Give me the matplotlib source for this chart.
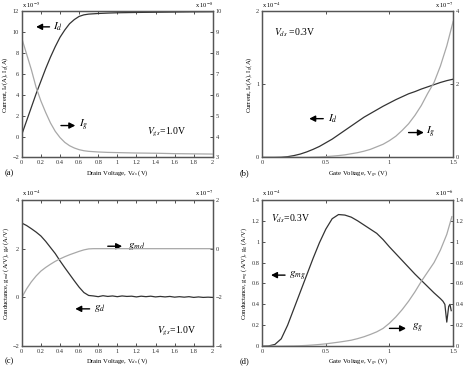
import matplotlib
matplotlib.use("Agg")
import matplotlib.pyplot as plt

plt.rcParams['font.family'] = ['Liberation Serif', 'DejaVu Serif']
plt.rcParams['mathtext.fontset'] = 'stix'

# ---------- data ----------
# (a) Vgs = 1.0 V, sweep Vds
vds_a = [0, 0.05, 0.1, 0.15, 0.2, 0.25, 0.3, 0.35, 0.4, 0.45, 0.5, 0.55, 0.6, 0.65, 0.7,
         0.8, 0.9, 1.0, 1.2, 1.4, 1.6, 1.8, 2.0]
id_a = [0.2, 1.5, 2.8, 4.1, 5.3, 6.5, 7.6, 8.6, 9.5, 10.2, 10.8, 11.2, 11.5, 11.65, 11.72,
        11.78, 11.82, 11.85, 11.88, 11.9, 11.92, 11.94, 11.95]            # x1e-5 A
ig_a = [8.7, 7.95, 7.2, 6.35, 5.7, 5.15, 4.65, 4.25, 3.95, 3.72, 3.56, 3.45, 3.37, 3.32, 3.29,
        3.26, 3.24, 3.23, 3.21, 3.2, 3.18, 3.17, 3.16]                    # x1e-8 A

# (b) Vds = 0.3 V, sweep Vgs
vgs_b = [0, 0.1, 0.15, 0.2, 0.25, 0.3, 0.35, 0.4, 0.45, 0.5, 0.55, 0.6, 0.65, 0.7, 0.75,
         0.8, 0.85, 0.9, 0.95, 1.0, 1.05, 1.1, 1.15, 1.2, 1.25, 1.3, 1.35, 1.4, 1.45, 1.5]
id_b = [0, 0, 0.002, 0.01, 0.025, 0.046, 0.075, 0.11, 0.15, 0.2, 0.25, 0.31, 0.37, 0.43, 0.49,
        0.55, 0.6, 0.65, 0.7, 0.745, 0.79, 0.83, 0.87, 0.9, 0.935, 0.965, 0.995, 1.025, 1.05, 1.07]  # x1e-4 A
ig_b = [0, 0, 0, 0, 0, 0, 0, 0.005, 0.01, 0.02, 0.035, 0.05, 0.07, 0.1, 0.13,
        0.17, 0.22, 0.29, 0.36, 0.46, 0.58, 0.74, 0.92, 1.15, 1.42, 1.75, 2.05, 2.5, 3.05, 3.72]   # x1e-7 A

# (c) Vgs = 1.0 V, conductances vs Vds
vds_c_gd = [0, 0.05, 0.1, 0.15, 0.2, 0.25, 0.3, 0.35, 0.4, 0.45, 0.5, 0.55, 0.6, 0.65, 0.7, 0.75,
            0.8, 0.85, 0.9, 0.95, 1.0, 1.05, 1.1, 1.15, 1.2, 1.25, 1.3, 1.35, 1.4, 1.45, 1.5,
            1.55, 1.6, 1.65, 1.7, 1.75, 1.8, 1.85, 1.9, 1.95, 2.0]
gd_c = [3.05, 2.95, 2.82, 2.68, 2.52, 2.3, 2.05, 1.8, 1.5, 1.22, 0.95, 0.68, 0.42, 0.2, 0.08, 0.06,
        0.03, 0.07, 0.04, 0.06, 0.03, 0.06, 0.04, 0.05, 0.02, 0.05, 0.03, 0.05, 0.02, 0.04, 0.02,
        0.04, 0.01, 0.03, 0.01, 0.03, 0.0, 0.02, 0.0, 0.01, 0.0]          # x1e-4 A/V
vds_c_gmd = [0, 0.05, 0.1, 0.15, 0.2, 0.25, 0.3, 0.35, 0.4, 0.45, 0.5, 0.55, 0.6, 0.65, 0.7, 0.75,
             1.0, 1.5, 2.0]
gmd_c = [-2.0, -1.65, -1.36, -1.12, -0.92, -0.77, -0.64, -0.52, -0.42, -0.33, -0.25, -0.18, -0.11,
         -0.05, -0.01, 0, 0, 0, 0]                                       # x1e-7 A/V

# (d) Vds = 0.3 V, conductances vs Vgs
vgs_d_gmg = [0, 0.05, 0.1, 0.15, 0.2, 0.25, 0.3, 0.35, 0.4, 0.45, 0.5, 0.55, 0.6, 0.65, 0.7, 0.75,
             0.8, 0.85, 0.9, 0.95, 1.0, 1.05, 1.1, 1.15, 1.2, 1.25, 1.3, 1.35, 1.4, 1.42, 1.435,
             1.45, 1.465, 1.475, 1.485]
gmg_d = [0, 0.002, 0.016, 0.07, 0.2, 0.36, 0.52, 0.68, 0.84, 0.99, 1.12, 1.22, 1.26, 1.255, 1.235,
         1.2, 1.16, 1.12, 1.08, 1.02, 0.95, 0.885, 0.82, 0.755, 0.69, 0.63, 0.57, 0.51, 0.455, 0.43,
         0.40, 0.23, 0.38, 0.40, 0.34]                                   # x1e-4 A/V
vgs_d_gg = [0, 0.05, 0.1, 0.15, 0.2, 0.25, 0.3, 0.35, 0.4, 0.45, 0.5, 0.55, 0.6, 0.65, 0.7, 0.75,
            0.8, 0.85, 0.9, 0.95, 1.0, 1.05, 1.1, 1.15, 1.2, 1.25, 1.3, 1.35, 1.4, 1.45, 1.49]
gg_d = [0, 0, 0, 0, 0.001, 0.002, 0.004, 0.007, 0.011, 0.016, 0.022, 0.03, 0.038, 0.047, 0.057,
        0.072, 0.09, 0.112, 0.137, 0.17, 0.22, 0.28, 0.35, 0.43, 0.52, 0.62, 0.71, 0.80, 0.92,
        1.07, 1.24]                                                      # x1e-6 A/V

# ---------- styling ----------
DARK = '#333333'
LIGHT = '#a8a8a8'
SPINE = '#555555'
TFS = 4.6
LFS = 4.8
AFS = 8

fig = plt.figure(figsize=(4.74, 3.73), dpi=100)


def make_axes(rect):
    ax = fig.add_axes(rect)
    ax2 = ax.twinx()
    for a in (ax, ax2):
        for s in a.spines.values():
            s.set_color(SPINE)
            s.set_linewidth(0.9)
    ax.tick_params(axis='both', direction='in', length=2.5, width=0.6, labelsize=TFS,
                   pad=2, colors='#333333', top=True)
    ax2.tick_params(axis='y', direction='in', length=2.5, width=0.6, labelsize=TFS,
                    pad=2, colors='#333333')
    return ax, ax2


def arrow(ax, x0, x1, y):
    ax.annotate('', xy=(x1, y), xytext=(x0, y),
                arrowprops=dict(arrowstyle='-|>,head_width=0.18,head_length=0.35',
                                color='black', lw=1.0, shrinkA=0, shrinkB=0))


W = 0.403
H = 0.392
L1, L2 = 0.046, 0.553
B1, B2 = 0.578, 0.072

# ----- (a) -----
ax, ax2 = make_axes([L1, B1, W, H])
ax.plot(vds_a, id_a, color=DARK, lw=0.9)
ax2.plot(vds_a, ig_a, color=LIGHT, lw=0.9)
ax.set_xlim(0, 2)
ax.set_ylim(-2, 12)
ax2.set_ylim(3, 10)
ax.set_xticks([0, 0.2, 0.4, 0.6, 0.8, 1, 1.2, 1.4, 1.6, 1.8, 2])
ax.set_xticklabels(['0', '0.2', '0.4', '0.6', '0.8', '1', '1.2', '1.4', '1.6', '1.8', '2'])
ax.set_yticks([-2, 0, 2, 4, 6, 8, 10, 12])
ax2.set_yticks([3, 4, 5, 6, 7, 8, 9, 10])
ax.set_ylabel('Current, I$_d$(A), I$_g$(A)', fontsize=LFS, labelpad=1)
ax.set_xlabel('Drain Voltage, V$_{ds}$ (V)', fontsize=LFS, labelpad=2)
ax.text(0, 1.01, 'x 10$^{-5}$', transform=ax.transAxes, fontsize=TFS, ha='left', va='bottom')
ax.text(1, 1.01, 'x 10$^{-8}$', transform=ax.transAxes, fontsize=TFS, ha='right', va='bottom')
arrow(ax, 0.29, 0.15, 10.5)
ax.text(0.33, 10.5, '$I_d$', fontsize=AFS, va='center')
arrow(ax, 0.41, 0.56, 1.05)
ax.text(0.6, 1.05, '$I_g$', fontsize=AFS, va='center')
ax.text(1.31, 0.4, '$V_{gs}$=1.0V', fontsize=7, va='center')
ax.text(-0.09, -0.105, '(a)', transform=ax.transAxes, fontsize=6, va='center')

# ----- (b) -----
ax, ax2 = make_axes([L2, B1, W, H])
ax.plot(vgs_b, id_b, color=DARK, lw=0.9)
ax2.plot(vgs_b, ig_b, color=LIGHT, lw=0.9)
ax.set_xlim(0, 1.5)
ax.set_ylim(0, 2)
ax2.set_ylim(0, 4)
ax.set_xticks([0, 0.5, 1, 1.5])
ax.set_xticklabels(['0', '0.5', '1', '1.5'])
ax.set_yticks([0, 1, 2])
ax2.set_yticks([0, 2, 4])
ax.set_ylabel('Current, I$_d$(A), I$_g$(A)', fontsize=LFS, labelpad=1)
ax.set_xlabel('Gate Voltage, V$_{gs}$ (V)', fontsize=LFS, labelpad=2)
ax.text(0, 1.01, 'x 10$^{-4}$', transform=ax.transAxes, fontsize=TFS, ha='left', va='bottom')
ax.text(1, 1.01, 'x 10$^{-7}$', transform=ax.transAxes, fontsize=TFS, ha='right', va='bottom')
arrow(ax, 0.48, 0.37, 0.53)
ax.text(0.52, 0.53, '$I_d$', fontsize=AFS, va='center')
arrow(ax, 1.15, 1.27, 0.34)
ax.text(1.29, 0.34, '$I_g$', fontsize=AFS, va='center')
ax.text(0.09, 1.7, '$V_{ds}$ =0.3V', fontsize=7, va='center')
ax.text(-0.12, -0.105, '(b)', transform=ax.transAxes, fontsize=6, va='center')

# ----- (c) -----
ax, ax2 = make_axes([L1, B2, W, H])
ax.plot(vds_c_gd, gd_c, color=DARK, lw=0.9)
ax2.plot(vds_c_gmd, gmd_c, color=LIGHT, lw=0.9)
ax.set_xlim(0, 2)
ax.set_ylim(-2, 4)
ax2.set_ylim(-4, 2)
ax.set_xticks([0, 0.2, 0.4, 0.6, 0.8, 1, 1.2, 1.4, 1.6, 1.8, 2])
ax.set_xticklabels(['0', '0.2', '0.4', '0.6', '0.8', '1', '1.2', '1.4', '1.6', '1.8', '2'])
ax.set_yticks([-2, 0, 2, 4])
ax2.set_yticks([-4, -2, 0, 2])
ax.set_ylabel('Conductance, g$_{md}$ (A/V), g$_d$ (A/V)', fontsize=LFS, labelpad=1)
ax.set_xlabel('Drain Voltage, V$_{ds}$ (V)', fontsize=LFS, labelpad=2)
ax.text(0, 1.01, 'x 10$^{-4}$', transform=ax.transAxes, fontsize=TFS, ha='left', va='bottom')
ax.text(1, 1.01, 'x 10$^{-7}$', transform=ax.transAxes, fontsize=TFS, ha='right', va='bottom')
arrow(ax, 0.9, 1.05, 2.1)
ax.text(1.11, 2.1, '$g_{md}$', fontsize=AFS, va='center')
arrow(ax, 0.71, 0.56, -0.47)
ax.text(0.76, -0.47, '$g_d$', fontsize=AFS, va='center')
ax.text(1.42, -1.4, '$V_{gs}$=1.0V', fontsize=7, va='center')
ax.text(-0.09, -0.105, '(c)', transform=ax.transAxes, fontsize=6, va='center')

# ----- (d) -----
ax, ax2 = make_axes([L2, B2, W, H])
ax.plot(vgs_d_gmg, gmg_d, color=DARK, lw=0.9)
ax2.plot(vgs_d_gg, gg_d, color=LIGHT, lw=0.9)
ax.set_xlim(0, 1.5)
ax.set_ylim(0, 1.4)
ax2.set_ylim(0, 1.4)
ax.set_xticks([0, 0.5, 1, 1.5])
ax.set_xticklabels(['0', '0.5', '1', '1.5'])
ticks_d = [0, 0.2, 0.4, 0.6, 0.8, 1, 1.2, 1.4]
labels_d = ['0', '0.2', '0.4', '0.6', '0.8', '1', '1.2', '1.4']
ax.set_yticks(ticks_d)
ax.set_yticklabels(labels_d)
ax2.set_yticks(ticks_d)
ax2.set_yticklabels(labels_d)
ax.set_ylabel('Conductance, g$_{mg}$ (A/V), g$_g$ (A/V)', fontsize=LFS, labelpad=1)
ax.set_xlabel('Gate Voltage, V$_{gs}$ (V)', fontsize=LFS, labelpad=2)
ax.text(0, 1.01, 'x 10$^{-4}$', transform=ax.transAxes, fontsize=TFS, ha='left', va='bottom')
ax.text(1, 1.01, 'x 10$^{-6}$', transform=ax.transAxes, fontsize=TFS, ha='right', va='bottom')
arrow(ax, 0.18, 0.07, 0.68)
ax.text(0.21, 0.67, '$g_{mg}$', fontsize=AFS, va='center')
arrow(ax, 1.0, 1.13, 0.17)
ax.text(1.18, 0.165, '$g_g$', fontsize=AFS, va='center')
ax.text(0.07, 1.22, '$V_{ds}$=0.3V', fontsize=7, va='center')
ax.text(-0.12, -0.105, '(d)', transform=ax.transAxes, fontsize=6, va='center')

fig.savefig('out.png', dpi=100, facecolor='white')
